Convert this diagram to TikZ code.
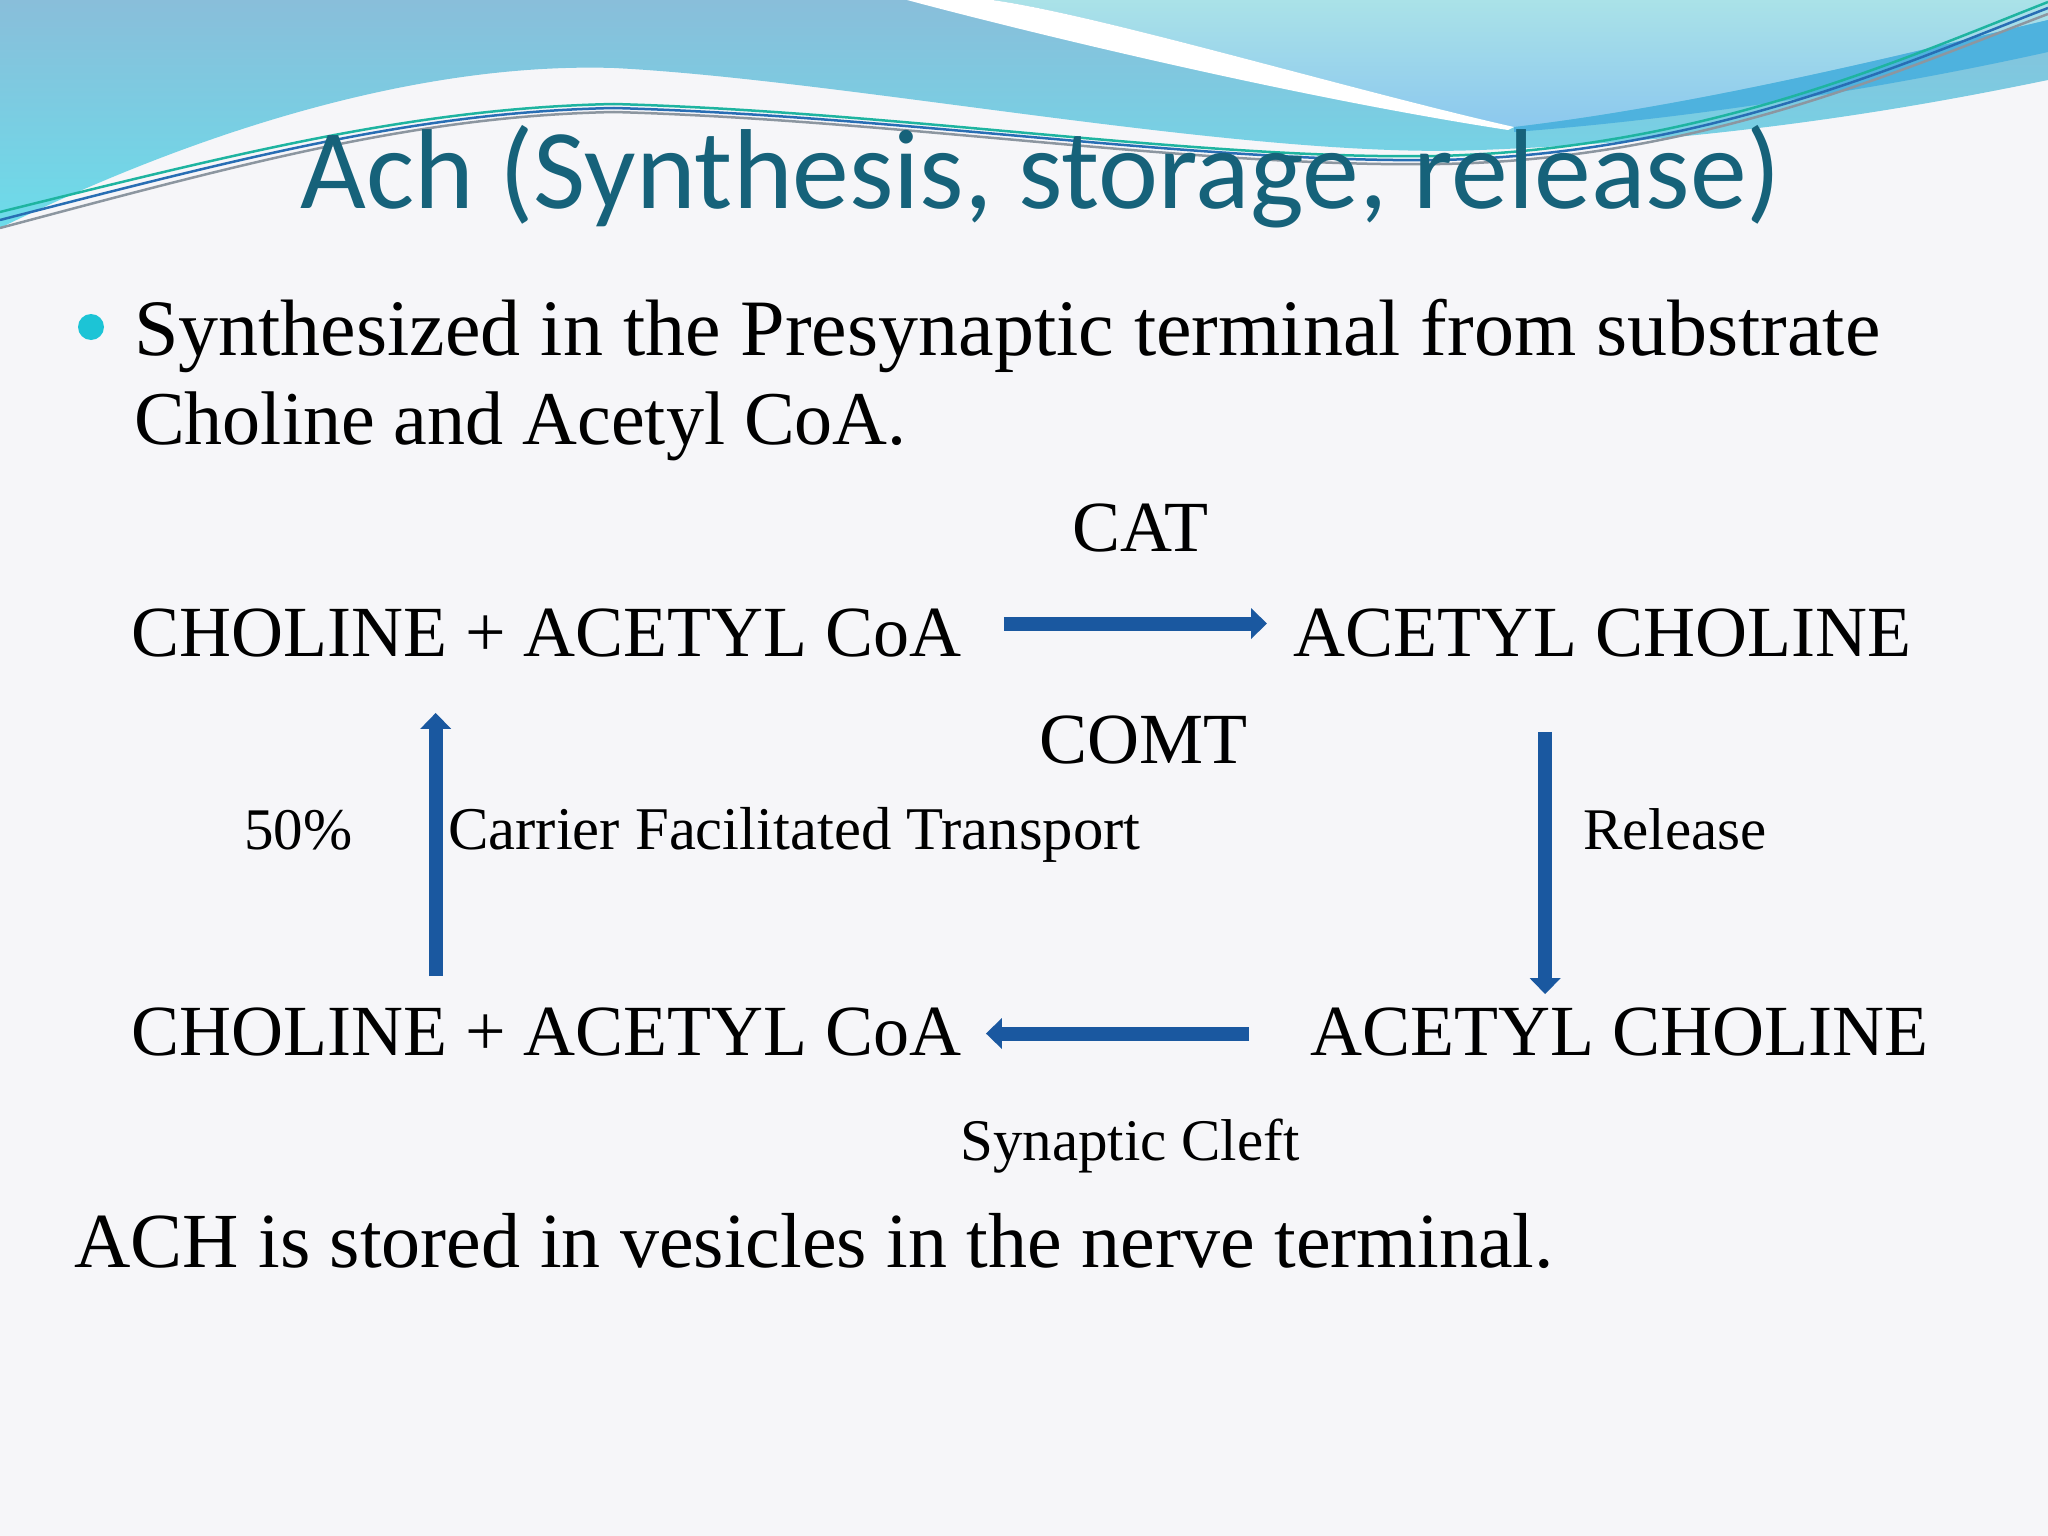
\documentclass[tikz,border=0pt]{standalone}
\usepackage{fontspec}
\setmainfont{Liberation Serif}
\newfontfamily\titlefont{Carlito}
\usetikzlibrary{arrows.meta,calc}
\definecolor{bg}{RGB}{246,246,249}
\definecolor{titlecol}{RGB}{22,98,122}
\definecolor{bulletcol}{RGB}{28,196,214}
\definecolor{arrowcol}{RGB}{26,88,160}
\definecolor{waveTop}{RGB}{137,190,218}
\definecolor{waveBot}{RGB}{108,220,234}
\definecolor{paleTop}{RGB}{170,226,232}
\definecolor{paleBot}{RGB}{140,200,238}
\definecolor{ribbon}{RGB}{78,178,222}
\definecolor{lineGreen}{RGB}{30,180,160}
\definecolor{lineGray}{RGB}{140,150,160}
\definecolor{lineBlue}{RGB}{40,110,180}
\begin{document}
\begin{tikzpicture}[x=1pt,y=-1pt,
  txt/.style={inner sep=0pt, anchor=base west, text=black},
  ctxt/.style={inner sep=0pt, anchor=base, text=black},
  bodyfont/.style={font=\fontsize{80}{96}\selectfont},
  chemfont/.style={font=\fontsize{72}{86}\selectfont},
  labelfont/.style={font=\fontsize{59}{70}\selectfont},
  bigarrow/.style={draw=arrowcol, line width=14pt, -{Triangle[width=30pt,length=16pt]}},
  waveline/.style={line width=2.5pt},
]
\useasboundingbox (0,0) rectangle (2048,1536);
\fill[bg] (0,0) rectangle (2048,1536);

% top decoration
\shade[top color=waveTop, bottom color=waveBot]
  (0,0) -- (2048,0) -- (2048,80) .. controls (1950,100) and (1750,140) .. (1480,150)
  .. controls (1250,160) and (850,80) .. (614,68)
  .. controls (420,62) and (200,130) .. (0,228) -- cycle;
\shade[top color=paleTop, bottom color=paleBot]
  (992,0) .. controls (1100,15) and (1350,90) .. (1514,127)
  .. controls (1700,105) and (1900,55) .. (2048,20) -- (2048,0) -- cycle;
\fill[ribbon]
  (1514,127) .. controls (1700,105) and (1900,55) .. (2048,20) -- (2048,52)
  .. controls (1900,85) and (1700,118) .. (1514,132) -- cycle;
\fill[white]
  (907,0) .. controls (1000,25) and (1280,95) .. (1508,130)
  -- (1514,127) .. controls (1350,90) and (1100,15) .. (992,0) -- cycle;
\draw[waveline, lineGray] (0,228) .. controls (255,160) and (420,116) .. (614,112)
  .. controls (900,120) and (1200,168) .. (1440,164) .. controls (1700,160) and (1900,70) .. (2048,14);
\draw[waveline, lineBlue] (0,220) .. controls (252,155) and (420,112) .. (614,108)
  .. controls (900,116) and (1200,163) .. (1438,160) .. controls (1700,155) and (1900,65) .. (2048,8);
\draw[waveline, lineGreen] (0,212) .. controls (250,150) and (420,108) .. (614,104)
  .. controls (900,112) and (1200,160) .. (1436,156) .. controls (1700,150) and (1900,60) .. (2048,2);

% title
\node[inner sep=0pt, anchor=base west, text=titlecol, font=\titlefont\fontsize{113.7}{136}\selectfont]
  (title) at (300,208) {Ach (Synthesis, storage, release)};

% bullet text
\node[circle, fill=bulletcol, minimum size=26pt, inner sep=0pt] (bullet) at (91,327) {};
\node[txt, bodyfont] (l1) at (134,355) {Synthesized in the Presynaptic terminal from substrate};
\node[txt, font=\fontsize{76}{92}\selectfont] (l2) at (134,444) {Choline and Acetyl CoA.};

% reaction scheme
\node[ctxt, chemfont] (cat) at (1140,551) {CAT};
\node[txt, chemfont] (c1) at (131,656) {CHOLINE + ACETYL CoA};
\node[txt, chemfont] (a1) at (1293,656) {ACETYL CHOLINE};
\node[ctxt, chemfont] (comt) at (1143,763) {COMT};
\node[txt, labelfont] (pct) at (244,849) {50\%};
\node[txt, font=\fontsize{60.7}{72}\selectfont] (cft) at (448,849) {Carrier Facilitated Transport};
\node[txt, labelfont] (rel) at (1583,849) {Release};
\node[txt, chemfont] (c2) at (131,1055) {CHOLINE + ACETYL CoA};
\node[txt, chemfont] (a2) at (1310,1055) {ACETYL CHOLINE};
\node[txt, labelfont] (cleft) at (960,1160) {Synaptic Cleft};
\node[txt, font=\fontsize{78}{94}\selectfont] (ach) at (74,1267) {ACH is stored in vesicles in the nerve terminal.};

% arrows
\draw[bigarrow, shorten <=42pt, shorten >=26pt] ([yshift=9pt]c1.east) -- ([yshift=9pt]a1.west);
\draw[bigarrow, shorten <=61pt, shorten >=24pt] ([yshift=-2pt]a2.west) -- ([yshift=-2pt]c2.east);
\draw[bigarrow, shorten <=31pt, shorten >=56pt]
  ($(c2.north west)!0.3667!(c2.north east)$) -- ($(c1.south west)!0.3667!(c1.south east)$);
\coordinate (relTop) at ($(a1.south west)!0.4078!(a1.south east)$);
\draw[bigarrow, shorten <=75pt, shorten >=13pt] (relTop) -- (relTop |- a2.north);
\end{tikzpicture}
\end{document}
